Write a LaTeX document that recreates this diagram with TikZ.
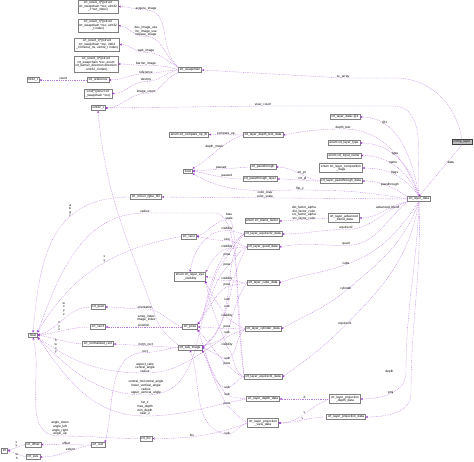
\documentclass[tikz,border=0pt]{standalone}
\usepackage{fontspec}
\setmainfont{Liberation Sans}
\usepackage{tikz}
\usetikzlibrary{arrows.meta}
\definecolor{edgepurple}{HTML}{9A32CD}
\definecolor{mainfill}{HTML}{BFBFBF}
\newcommand{\gsz}{\fontsize{3.2}{3.6}\selectfont}

\begin{document}
\begin{tikzpicture}[x=1pt, y=1pt,
  cls/.style={draw=black!50, fill=white, line width=0.3pt, inner xsep=1.4pt, inner ysep=1.1pt, font=\gsz, align=center},
  focus/.style={cls, fill=mainfill, draw=black!75},
  mem/.style={draw=edgepurple!65, line width=0.35pt, dash pattern=on 0.9pt off 0.9pt, -{Stealth[length=2.4pt,width=2pt,color=edgepurple]}},
  lbl/.style={font=\gsz, inner sep=0.4pt, align=center}]
  \useasboundingbox (0,0) rectangle (474,-461);

  % Nodes:
  \node[focus] (comp) at (462,-142) {comp\_layer};
  \node[cls] (xld) at (419,-199) {xrt\_layer\_data};
  \node[cls] (xsc) at (190,-70) {xrt\_swapchain};
  \node[cls] (fn1) at (98,-6.5) {xrt\_result\_t(*)(struct\\xrt\_swapchain *xsc, uint32\\\_t *out\_index)};
  \node[cls] (fn2) at (98,-25.5) {xrt\_result\_t(*)(struct\\xrt\_swapchain *xsc, uint32\\\_t index)};
  \node[cls] (fn3) at (97,-44.5) {xrt\_result\_t(*)(struct\\xrt\_swapchain *xsc, int64\\\_t timeout\_ns, uint32\_t index)};
  \node[cls] (fn4) at (96,-64) {xrt\_result\_t(*)(struct\\xrt\_swapchain *xsc, enum\\xrt\_barrier\_direction direction\\, uint32\_t index)};
  \node[cls] (xref) at (98,-80) {xrt\_reference};
  \node[cls] (fn5) at (98,-93.5) {void(*)(struct xrt\\\_swapchain *xsc)};
  \node[cls] (u32) at (98,-108) {uint32\_t};
  \node[cls] (i32) at (33,-80) {int32\_t};
  \node[cls] (anon) at (345,-117) {xrt\_layer\_data::@1};
  \node[cls] (dtd) at (263,-135) {xrt\_layer\_depth\_test\_data};
  \node[cls] (cmp) at (189,-134.5) {enum xrt\_compare\_op\_fb};
  \node[cls] (ltype) at (344,-143) {enum xrt\_layer\_type};
  \node[cls] (iname) at (344,-155.5) {enum xrt\_input\_name};
  \node[cls] (lflags) at (341,-168) {enum xrt\_layer\_composition\\\_flags};
  \node[cls] (ptd) at (341,-181) {xrt\_layer\_passthrough\_data};
  \node[cls] (pt) at (263,-167) {xrt\_passthrough};
  \node[cls] (pl) at (260,-179) {xrt\_passthrough\_layer};
  \node[cls] (bool) at (188,-171) {bool};
  \node[cls] (rgba) at (146,-197) {xrt\_colour\_rgba\_f32};
  \node[cls] (abd) at (344,-218) {xrt\_layer\_advanced\\\_blend\_data};
  \node[cls] (bf) at (262,-221) {enum xrt\_blend\_factor};
  \node[cls] (eq2) at (263,-234) {xrt\_layer\_equirect2\_data};
  \node[cls] (quad) at (263,-247) {xrt\_layer\_quad\_data};
  \node[cls] (cube) at (263,-283) {xrt\_layer\_cube\_data};
  \node[cls] (cyl) at (263,-329) {xrt\_layer\_cylinder\_data};
  \node[cls] (eq1) at (263,-377) {xrt\_layer\_equirect1\_data};
  \node[cls] (dd) at (263,-399) {xrt\_layer\_depth\_data};
  \node[cls] (pdd) at (345,-399) {xrt\_layer\_projection\\\_depth\_data};
  \node[cls] (pvd) at (263,-423) {xrt\_layer\_projection\\\_view\_data};
  \node[cls] (pd) at (346,-417) {xrt\_layer\_projection\_data};
  \node[cls] (vec2) at (189,-236.5) {xrt\_vec2};
  \node[cls] (vis) at (190,-276.5) {enum xrt\_layer\_eye\\\_visibility};
  \node[cls] (pose) at (190,-327) {xrt\_pose};
  \node[cls] (sub) at (190,-347.5) {xrt\_sub\_image};
  \node[cls] (quat) at (98,-307) {xrt\_quat};
  \node[cls] (vec3) at (98,-327) {xrt\_vec3};
  \node[cls] (nrect) at (98,-344) {xrt\_normalized\_rect};
  \node[cls] (flt) at (33,-335) {float};
  \node[cls] (fov) at (146,-438.5) {xrt\_fov};
  \node[cls] (rect) at (98,-445) {xrt\_rect};
  \node[cls] (off) at (33,-444.5) {xrt\_offset};
  \node[cls] (size) at (33,-457) {xrt\_size};
  \node[cls] (int) at (4.5,-450.5) {int};

  % comp_layer
  \draw[mem] (comp.north) to[out=100,in=0] (395,-78) -- (343,-78) node[lbl,above=-.5pt]{sc\_array} -- (xsc.east);
  \draw[mem] (comp.south) -- node[lbl,right,pos=.35]{data} (xld.north);

  % swapchain members
  \draw[mem] (xsc.north west) to[out=140,in=0] (146,-10) node[lbl,above=-.5pt]{acquire\_image} to[out=180,in=0] (fn1.east);
  \draw[mem] (xsc.north west) to[out=145,in=0] (146,-36.5) node[lbl,above=-.5pt]{dec\_image\_use\\inc\_image\_use\\release\_image} to[out=180,in=-10] (fn2.east);
  \draw[mem] (xsc.north west) to[out=150,in=0] (146,-52.5) node[lbl,above=-.5pt]{wait\_image} to[out=180,in=0] (fn3.east);
  \draw[mem] (xsc.west) to[out=160,in=0] (146,-65.5) node[lbl,above=-.5pt]{barrier\_image} to[out=180,in=0] (fn4.east);
  \draw[mem] (xsc.west) to[out=180,in=0] (146,-73.5) node[lbl,above=-.5pt]{reference} to[out=180,in=0] (xref.east);
  \draw[mem] (xsc.west) to[out=190,in=0] (146,-81.5) node[lbl,above=-.5pt]{destroy} to[out=180,in=0] (fn5.east);
  \draw[mem] (xsc.south west) to[out=200,in=0] (146,-93.5) node[lbl,above=-.5pt]{image\_count} to[out=180,in=0] (u32.east);
  \draw[mem] (xref.west) -- node[lbl,above=-.5pt]{count} (i32.east);

  % layer data members
  \draw[mem] (xld.north) to[out=95,in=0] (392,-106) -- (263,-106) node[lbl,above=-.5pt]{view\_count} -- (u32.east);
  \draw[mem] (xld.north) to[out=100,in=0] node[lbl,above,pos=.75]{@1} (anon.east);
  \draw[mem] (xld.north) to[out=110,in=0] (343,-129) node[lbl,above=-.5pt]{depth\_test} to[out=180,in=10] (dtd.east);
  \draw[mem] (xld.north) to[out=105,in=0] node[lbl,above,pos=.55]{type} (ltype.east);
  \draw[mem] (xld.north) to[out=115,in=0] node[lbl,above,pos=.55]{name} (iname.east);
  \draw[mem] (xld.north) to[out=125,in=0] node[lbl,above,pos=.5]{flags} (lflags.east);
  \draw[mem] (xld.north west) to[out=150,in=0] node[lbl,above,pos=.4]{passthrough} (ptd.east);
  \draw[mem] (xld.west) to[out=170,in=0] (300,-190) node[lbl,above=-.5pt]{flip\_y} to[out=180,in=-30] (bool.south east);
  \draw[mem] (xld.west) -- node[lbl,above=-.5pt,pos=.58]{color\_bias\\color\_scale} (rgba.east);
  \draw[mem] (xld.south west) to[out=190,in=0] node[lbl,above=-1pt,pos=.4]{advanced\_blend} (abd.east);
  \draw[mem] (xld.south west) to[out=200,in=0] (346,-229.5) node[lbl,above=-.5pt]{equirect2} to[out=180,in=0] (eq2.east);
  \draw[mem] (xld.south west) to[out=220,in=0] (346,-245.5) node[lbl,above=-.5pt]{quad} to[out=180,in=10] (quad.east);
  \draw[mem] (xld.south) to[out=235,in=20] (346,-264.5) node[lbl,above=-.5pt]{cube} to[out=200,in=20] (cube.east);
  \draw[mem] (xld.south) to[out=250,in=40] (346,-290.5) node[lbl,above=-.5pt]{cylinder} to[out=220,in=30] (cyl.east);
  \draw[mem] (xld.south) to[out=260,in=45] (345,-325.5) node[lbl,above=-.5pt]{equirect1} to[out=225,in=35] (eq1.east);
  \draw[mem] (xld.south) to[out=-92,in=90] (406,-372) node[lbl,left=12pt]{depth} to[out=-90,in=0] (pdd.east);
  \draw[mem] (xld.south) to[out=-88,in=90] (411,-393) node[lbl,left=17pt]{proj} to[out=-90,in=0] (pd.east);

  % depth test, passthrough, blend
  \draw[mem] (dtd.west) -- node[lbl,above=-.5pt]{compare\_op} (cmp.east);
  \draw[mem] (dtd.west) to[out=200,in=30] node[lbl,pos=.4,left=-2pt]{depth\_mask} (bool.north east);
  \draw[mem] (ptd.west) to[out=170,in=0] node[lbl,above,pos=.4]{xrt\_pt} (pt.east);
  \draw[mem] (ptd.west) to[out=180,in=0] node[lbl,above,pos=.4]{xrt\_pl} (pl.east);
  \draw[mem] (pt.west) -- node[lbl,above=-.5pt]{paused} (bool.east);
  \draw[mem] (pl.west) to[out=180,in=-10] node[lbl,above,pos=.3]{paused} (bool.east);
  \draw[mem] (abd.west) -- node[lbl,above=-1pt]{dst\_factor\_alpha\\dst\_factor\_color\\src\_factor\_alpha\\src\_factor\_color} (bf.east);

  % layer kinds to vec2 / visibility / pose / sub
  \draw[mem] (eq1.north west) .. controls (234,-300) and (238,-219.5) .. (229,-219.5) node[lbl,above=-.5pt]{bias\\scale} to[out=180,in=20] (vec2.east);
  \draw[mem] (eq1.north west) .. controls (236,-300) and (240,-213) .. (215,-213) -- (145,-213) node[lbl,above=-.5pt]{radius} to[out=180,in=70] (flt.north east);
  \draw[mem] (eq2.west) to[out=170,in=0] (227,-230.5) node[lbl,above=-.5pt]{visibility} to[out=180,in=80] (vis.north);
  \draw[mem] (eq2.west) to[out=220,in=50] (227,-256.5) node[lbl,above=-.5pt]{pose} to[out=230,in=60] (pose.north east);
  \draw[mem] (eq2.west) to[out=235,in=80] (227,-300.5) node[lbl,above=-.5pt]{sub} to[out=260,in=40] (sub.east);
  \draw[mem] (quad.west) to[out=165,in=0] (227,-240.5) node[lbl,above=-.5pt]{size} to[out=180,in=-10] (vec2.east);
  \draw[mem] (quad.west) to[out=180,in=0] (227,-248.5) node[lbl,above=-.5pt]{visibility} to[out=200,in=60] (vis.north east);
  \draw[mem] (quad.west) to[out=200,in=30] (227,-266.5) node[lbl,above=-.5pt]{pose} to[out=230,in=55] (pose.north east);
  \draw[mem] (quad.west) to[out=240,in=75] (227,-307.5) node[lbl,above=-.5pt]{sub} to[out=250,in=35] (sub.east);
  \draw[mem] (cube.west) to[out=175,in=0] (227,-280.5) node[lbl,above=-.5pt]{visibility} to[out=180,in=-10] (vis.east);
  \draw[mem] (cube.west) to[out=185,in=10] (227,-286.5) node[lbl,above=-.5pt]{pose} to[out=215,in=50] (pose.north east);
  \draw[mem] (cube.west) to[out=235,in=70] (227,-333.5) node[lbl,above=-.5pt]{sub} to[out=235,in=30] (sub.east);
  \draw[mem] (cyl.west) to[out=150,in=-40] (227,-317.5) node[lbl,above=-.5pt]{visibility} to[out=120,in=-70] (vis.south east);
  \draw[mem] (cyl.west) to[out=180,in=0] (227,-328.5) node[lbl,above=-.5pt]{pose} to[out=180,in=0] (pose.east);
  \draw[mem] (cyl.west) to[out=220,in=30] (227,-359.5) node[lbl,above=-.5pt]{sub} to[out=160,in=-20] (sub.east);
  \draw[mem] (eq1.west) to[out=150,in=-50] (227,-346.5) node[lbl,above=-.5pt]{visibility} to[out=110,in=-80] (vis.south east);
  \draw[mem] (eq1.west) to[out=165,in=-30] (227,-365.5) node[lbl,above=-.5pt]{pose} to[out=130,in=-50] (pose.south east);
  \draw[mem] (eq1.west) to[out=200,in=20] (227,-388.5) node[lbl,above=-.5pt]{sub} to[out=160,in=-60] (sub.south east);
  \draw[mem] (dd.west) to[out=170,in=-20] (227,-395.5) node[lbl,above=-.5pt]{sub} to[out=130,in=-60] (sub.south east);
  \draw[mem] (pvd.west) to[out=150,in=-40] (227,-405.5) node[lbl,above=-.5pt]{pose} to[out=120,in=-70] (pose.south east);
  \draw[mem] (pvd.west) to[out=200,in=10] (227,-434.5) node[lbl,above=-.5pt]{sub} to[out=170,in=-70] (sub.south);
  \draw[mem] (pvd.west) to[out=200,in=0] node[lbl,above=-.5pt,pos=.6]{fov} (fov.east);

  % projection
  \draw[mem] (pdd.west) -- node[lbl,above=-.5pt]{d} (dd.east);
  \draw[mem] (pdd.west) to[out=200,in=0] node[lbl,above=-.5pt]{v} (pvd.east);
  \draw[mem] (pd.west) to[out=180,in=0] node[lbl,above=-.5pt]{v} (pvd.east);

  % to float
  \draw[mem] (rgba.west) to[out=180,in=85,looseness=1.2] node[lbl,pos=.35,above right=-1pt]{a\\b\\g\\r} (flt.north);
  \draw[mem] (vec2.west) to[out=190,in=60] node[lbl,pos=.45,above]{x\\y} (flt.north east);
  \draw[mem] (quat.west) to[out=180,in=15] node[lbl,pos=.5,above=3pt]{w\\x\\y\\z} (flt.east);
  \draw[mem] (vec3.west) to[out=180,in=5] node[lbl,pos=.6,above]{x\\y\\z} (flt.east);
  \draw[mem] (nrect.west) to[out=175,in=-10] node[lbl,pos=.6,below]{h\\w\\x\\y} (flt.east);
  \draw[mem] (cyl.west) to[out=200,in=0] (145,-373) node[lbl,above]{aspect\_ratio\\central\_angle\\radius} to[out=180,in=-35] (flt.south east);
  \draw[mem] (eq2.west) to[out=215,in=0] (146,-395) node[lbl,above]{central\_horizontal\_angle\\lower\_vertical\_angle\\radius\\upper\_vertical\_angle} to[out=180,in=-45] (flt.south east);
  \draw[mem] (dd.west) to[out=190,in=0] (145,-416) node[lbl,above]{far\_z\\max\_depth\\min\_depth\\near\_z} to[out=180,in=-55] (flt.south east);
  \draw[mem] (fov.west) to[out=180,in=0] (60,-436) node[lbl,above]{angle\_down\\angle\_left\\angle\_right\\angle\_up} to[out=180,in=-75] (flt.south);

  % pose, sub image, rect
  \draw[mem] (pose.west) to[out=160,in=0] (145,-309) node[lbl,above=-.5pt]{orientation} to[out=180,in=0] (quat.east);
  \draw[mem] (pose.west) -- node[lbl,above=-.5pt]{position} (vec3.east);
  \draw[mem] (sub.west) -- node[lbl,above=-.5pt]{norm\_rect} (nrect.east);
  \draw[mem] (sub.west) to[out=185,in=0] (145,-352.5) node[lbl,above=-.5pt]{rect} to[out=180,in=75] (rect.north east);
  \draw[mem] (sub.north west) to[out=140,in=-70] (156,-318) node[lbl,left]{array\_index\\image\_index} to[out=110,in=-85] (u32.south);
  \draw[mem] (rect.west) -- node[lbl,above=-.5pt]{offset} (off.east);
  \draw[mem] (rect.west) to[out=190,in=0] node[lbl,above=-.5pt,pos=.4]{extent} (size.east);
  \draw[mem] (off.west) -- node[lbl,above=-.5pt]{x\\y} (int.east);
  \draw[mem] (size.west) -- node[lbl,below=-.5pt]{w\\h} (int.east);
\end{tikzpicture}
\end{document}
